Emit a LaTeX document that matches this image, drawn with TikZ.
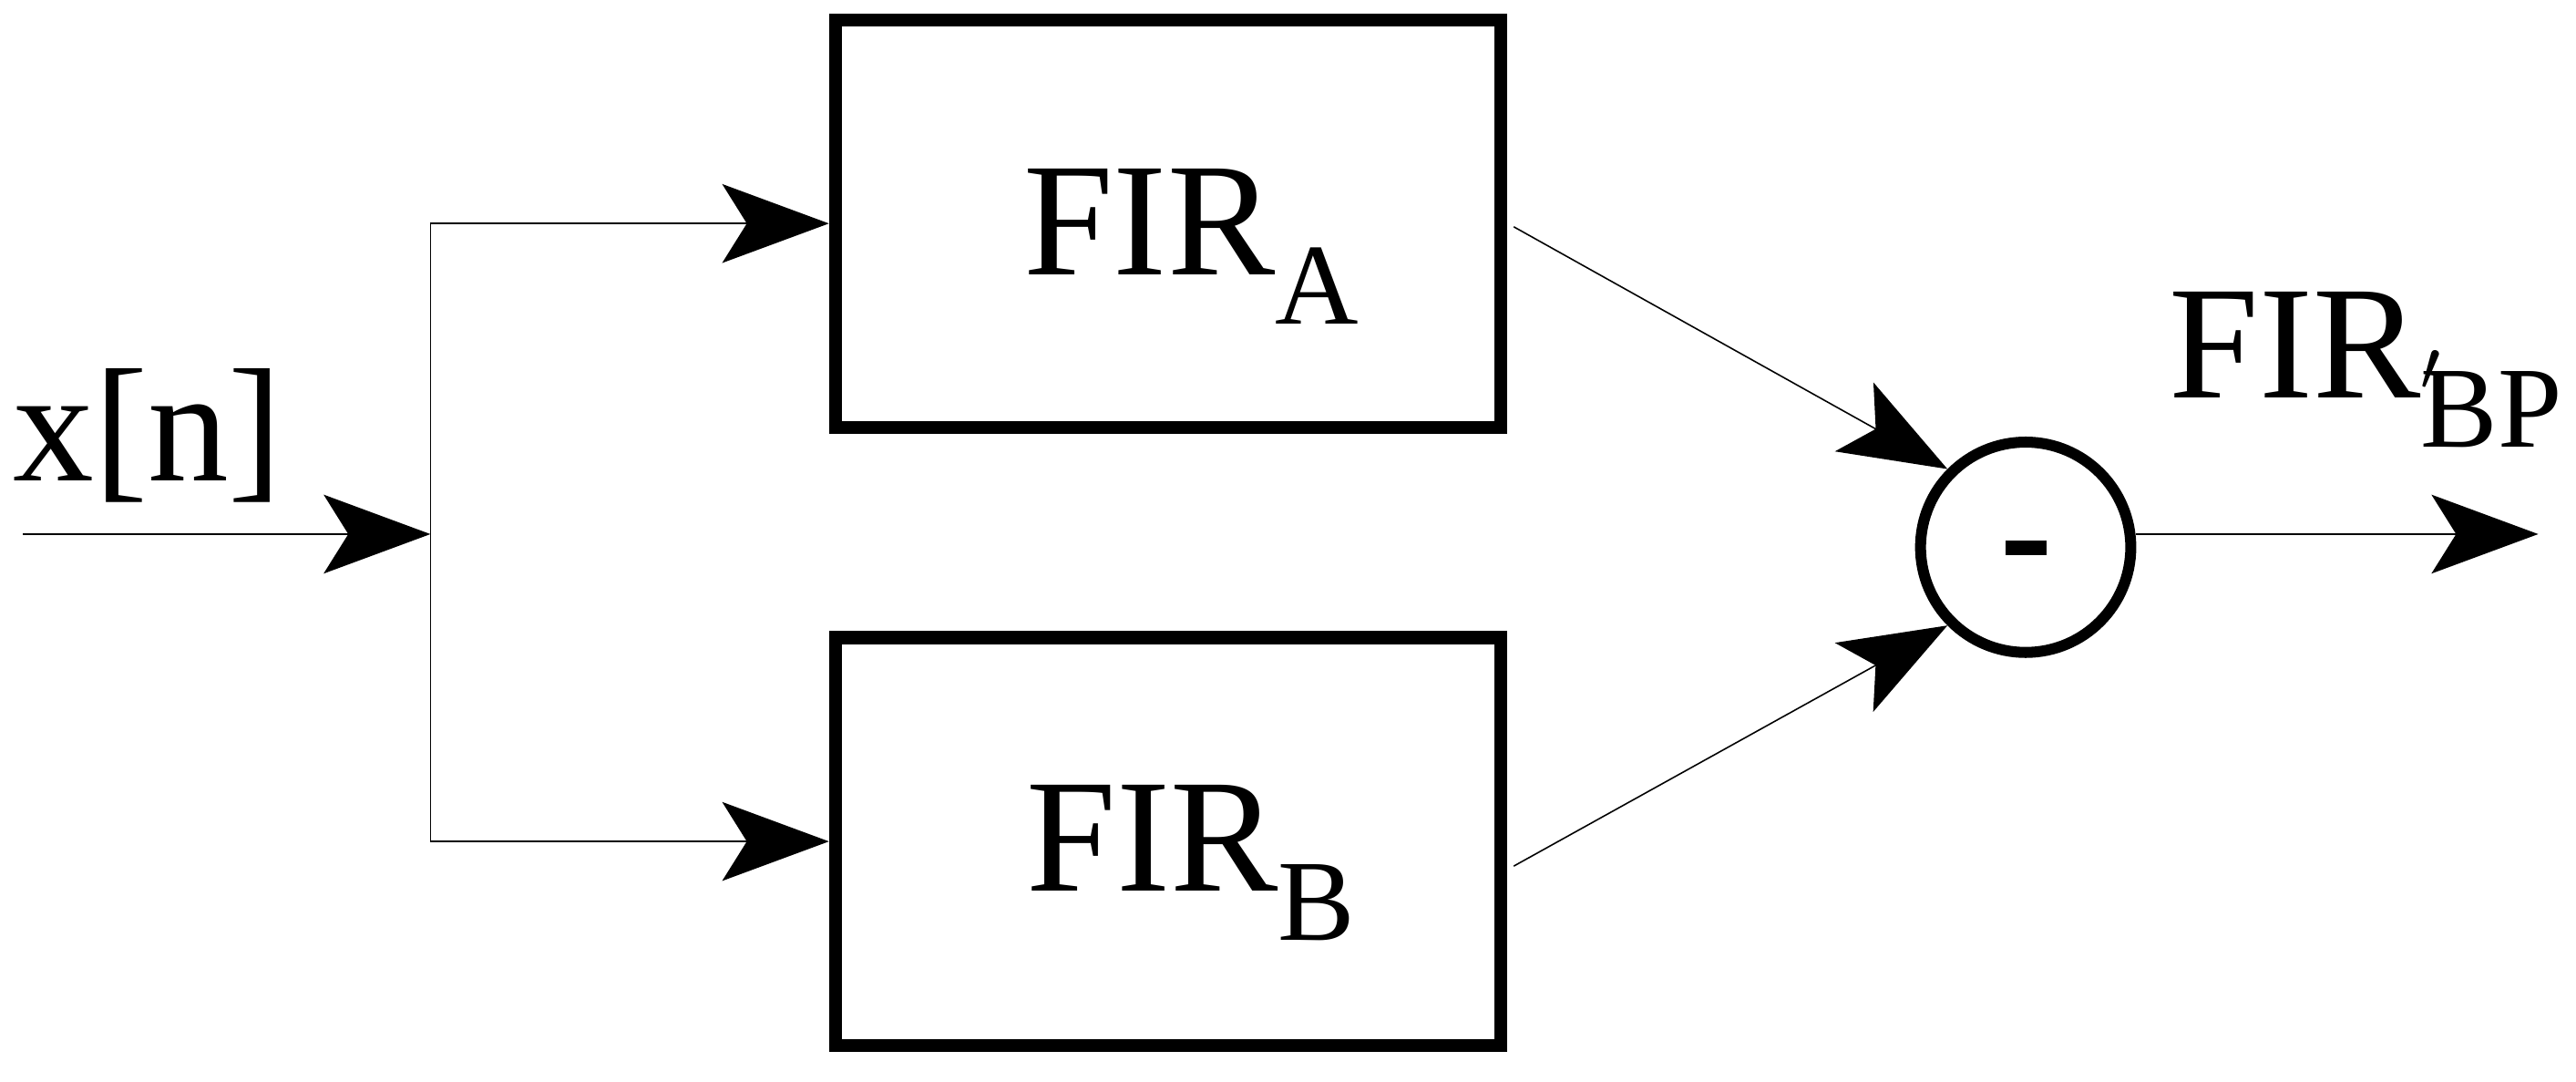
\documentclass[tikz,border=0pt]{standalone}
\usepackage{fontspec}
\setmainfont{Liberation Serif}
\usetikzlibrary{arrows.meta}
\newcommand{\sbs}[1]{\raisebox{-0.3em}{\fontsize{40}{44}\selectfont #1}}
\begin{document}
\begin{tikzpicture}[x=0.02cm,y=-0.02cm,
  box/.style={draw,line width=4.5pt,minimum width=8.1cm,minimum height=4.96cm,inner sep=0},
  wire/.style={line width=0.5pt},
  arr/.style={wire,-{Stealth[length=1.3cm,width=0.96cm,inset=0.3cm]}},
  lbl/.style={font=\fontsize{56}{60}\selectfont,inner sep=0}]
\useasboundingbox (0,0) rectangle (1568,658);
\node[box] (A) at (711,136) {};
\node[box] (B) at (711,512) {};
\node[draw,circle,line width=3.8pt,minimum size=2.56cm,inner sep=0] (S) at (1233,333) {};
\fill (1221,329) rectangle (1246,338);
\coordinate (in) at (14,325);
\coordinate (j) at (262,325);
\coordinate (out) at (1545,325);
\draw[arr] (in) -- (j);
\draw[arr] (j) |- (A.west);
\draw[arr] (j) |- (B.west);
\draw[arr] (A.east) ++(4,2) -- (S.135);
\draw[arr] (B.east) ++(4,15) -- (S.225);
\draw[arr] (S.east |- out) -- (out);
\node[lbl] (xn) at (90,265) {x[n]};
\node[lbl] (la) at (725,150) {FIR\sbs{A}};
\node[lbl] (lb) at (725,525) {FIR\sbs{B}};
\node[lbl] (lo) at (1440,225) {FIR\rlap{\raisebox{0.05em}{\fontsize{60}{60}\selectfont$\prime$}}\sbs{BP}};
\end{tikzpicture}
\end{document}
